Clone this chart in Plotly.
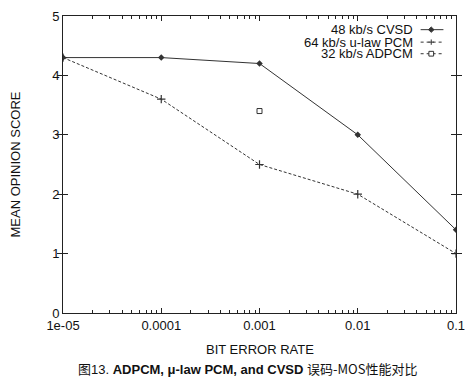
import plotly.graph_objects as go

ber = [1e-5, 1e-4, 1e-3, 1e-2, 1e-1]
cvsd = [4.3, 4.3, 4.2, 3.0, 1.4]
pcm = [4.3, 3.6, 2.5, 2.0, 1.0]
adpcm_x = [1e-3]
adpcm = [3.4]
x_tickvals = [1e-5, 1e-4, 1e-3, 1e-2, 1e-1]
x_ticktext = ["1e-05", "0.0001", "0.001", "0.01", "0.1"]
x_minor = [m * d for d in [1e-5, 1e-4, 1e-3, 1e-2] for m in range(2, 10)]
names = ["48 kb/s CVSD", "64 kb/s u-law PCM", "32 kb/s ADPCM"]

FONT = "Liberation Sans, Arial, sans-serif"
C = "#333333"
AX = "#222222"

fig = go.Figure()
fig.add_trace(go.Scatter(x=ber, y=cvsd, mode="lines+markers", name=names[0],
                         line=dict(color=C, width=1),
                         marker=dict(symbol="diamond", size=5, color=C)))
fig.add_trace(go.Scatter(x=ber, y=pcm, mode="lines+markers", name=names[1],
                         line=dict(color=C, width=1, dash="3px,2px"),
                         marker=dict(symbol="cross-thin", size=6, line=dict(color=C, width=1.2))))
fig.add_trace(go.Scatter(x=adpcm_x, y=adpcm, mode="markers", name=names[2], xaxis="x2",
                         marker=dict(symbol="square-open", size=5, color=C, line=dict(width=1))))

shapes = []
# custom legend (text left of samples, as in gnuplot)
rows = [0.954, 0.912, 0.873]
tx, l0, l1, mc = 0.895, 0.91, 0.968, 0.937
annotations = []
for i, (nm, yy) in enumerate(zip(names, rows)):
    annotations.append(dict(xref="paper", yref="paper", x=tx, y=yy, text=nm,
                            showarrow=False, xanchor="right", yanchor="middle",
                            font=dict(family=FONT, size=13, color="#111")))
    dash = "solid" if i == 0 else "dot"
    shapes.append(dict(type="line", xref="paper", yref="paper", x0=l0, x1=l1, y0=yy, y1=yy,
                       line=dict(color=C, width=1, dash=dash)))
dx, dy = 0.007, 0.009
y0 = rows[0]
shapes.append(dict(type="path", xref="paper", yref="paper",
                   path=f"M {mc-dx} {y0} L {mc} {y0+dy} L {mc+dx} {y0} L {mc} {y0-dy} Z",
                   fillcolor=C, line=dict(color=C, width=1)))
y1 = rows[1]
shapes.append(dict(type="line", xref="paper", yref="paper", x0=mc, x1=mc, y0=y1-dy, y1=y1+dy,
                   line=dict(color=C, width=1)))
shapes.append(dict(type="line", xref="paper", yref="paper", x0=mc-dx, x1=mc+dx, y0=y1, y1=y1,
                   line=dict(color=C, width=1)))
y2 = rows[2]
shapes.append(dict(type="rect", xref="paper", yref="paper", x0=mc-0.006, x1=mc+0.006,
                   y0=y2-0.008, y1=y2+0.008, fillcolor="white", line=dict(color=C, width=1)))

annotations.append(dict(xref="paper", yref="paper", x=0.5, y=-0.122, text="BIT ERROR RATE",
                        showarrow=False, xanchor="center", yanchor="middle",
                        font=dict(family=FONT, size=13, color="#111")))
annotations.append(dict(xref="paper", yref="paper", x=0.47, y=-0.188,
                        text="<span style='font-family:Noto Sans CJK SC'>图</span>13. "
                             "<b>ADPCM, μ-law PCM, and CVSD</b> "
                             "<span style='font-family:Noto Sans CJK SC'>误码-MOS性能对比</span>",
                        showarrow=False, xanchor="center", yanchor="middle",
                        font=dict(family=FONT, size=13, color="#111")))

fig.update_layout(
    width=474, height=381,
    margin=dict(l=63, r=13, t=9, b=68),
    paper_bgcolor="white", plot_bgcolor="white",
    showlegend=False,
    font=dict(family=FONT, size=13, color="#111"),
    annotations=annotations, shapes=shapes,
    xaxis=dict(type="log", range=[-5, -1], tickvals=x_tickvals, ticktext=x_ticktext,
               ticks="inside", ticklen=5, tickcolor=AX, showline=True, linecolor=AX,
               linewidth=1, mirror="allticks", showgrid=False, zeroline=False,
               tickfont=dict(size=13)),
    xaxis2=dict(type="log", range=[-5, -1], overlaying="x", anchor="y", side="bottom",
                tickvals=x_minor, ticks="inside", ticklen=3, tickcolor=AX,
                showticklabels=False, showline=False, mirror="allticks",
                showgrid=False, zeroline=False),
    yaxis=dict(range=[0, 5], dtick=1, ticks="inside", ticklen=5, tickcolor=AX,
               showline=True, linecolor=AX, linewidth=1, mirror="allticks",
               showgrid=False, zeroline=False,
               title=dict(text="MEAN OPINION SCORE", standoff=28, font=dict(size=13)),
               tickfont=dict(size=13)),
)

fig.write_html("out.html", post_script="document.body.style.margin='0';",
               config={"displayModeBar": False})
